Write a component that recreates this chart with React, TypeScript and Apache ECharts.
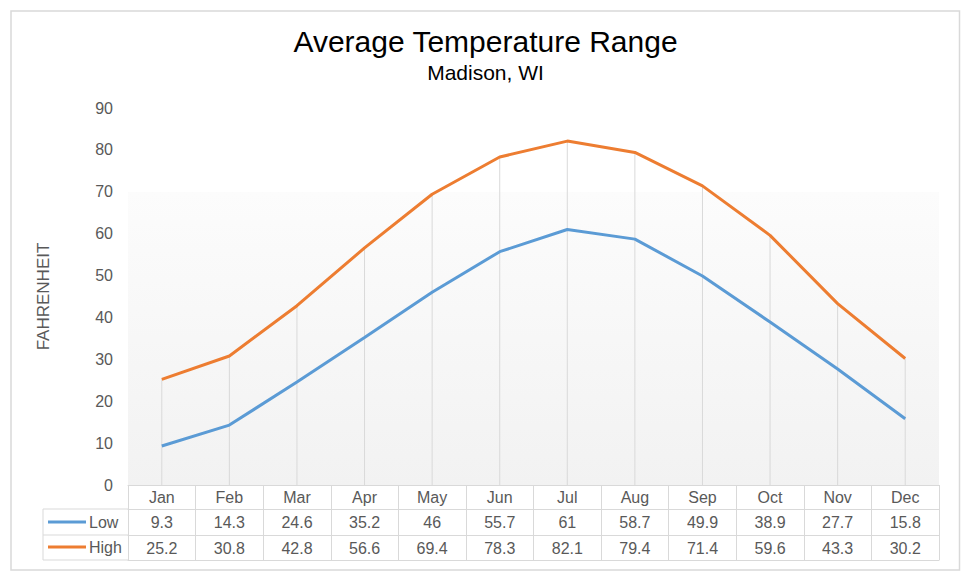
import React, { useEffect, useRef } from 'react';
import * as echarts from 'echarts';

const months = ['Jan', 'Feb', 'Mar', 'Apr', 'May', 'Jun', 'Jul', 'Aug', 'Sep', 'Oct', 'Nov', 'Dec'];
const lowTemps = [9.3, 14.3, 24.6, 35.2, 46, 55.7, 61, 58.7, 49.9, 38.9, 27.7, 15.8];
const highTemps = [25.2, 30.8, 42.8, 56.6, 69.4, 78.3, 82.1, 79.4, 71.4, 59.6, 43.3, 30.2];
const seriesNames = ['Low', 'High'];

const FONT = '"Liberation Sans", Arial, sans-serif';
const GRID = '#d9d9d9';
const TEXT = '#595959';
const BLUE = '#5B9BD5';
const ORANGE = '#ED7D31';

const App: React.FC = () => {
  const chartRef = useRef<HTMLDivElement>(null);

  useEffect(() => {
    if (!chartRef.current) return;
    const chart = echarts.init(chartRef.current, undefined, { renderer: 'svg' });

    // 表格行：每行一个类目轴，用 offset 往下排
    const tableAxis = (offset: number, tickLen: number, labels: (number | string)[] | null, margin: number) => ({
      type: 'category',
      data: months,
      position: 'bottom',
      offset,
      boundaryGap: true,
      axisLine: { show: true, lineStyle: { color: GRID, width: 1 } },
      axisTick: { show: tickLen > 0, interval: 0, length: tickLen, lineStyle: { color: GRID } },
      axisLabel: {
        show: labels !== null,
        interval: 0,
        margin,
        color: TEXT,
        fontSize: 16,
        fontFamily: FONT,
        formatter: (v: string, i: number) => (labels ? String(labels[i]) : v),
      },
      splitLine: { show: false },
    });

    const legendRow = (y: number, color: string, name: string) => [
      { type: 'line', shape: { x1: 48, y1: y, x2: 86, y2: y }, style: { stroke: color, lineWidth: 3 } },
      {
        type: 'text',
        x: 89,
        y,
        style: { text: name, font: `16px ${FONT}`, fill: TEXT, verticalAlign: 'middle' },
      },
    ];

    chart.setOption({
      animation: false,
      backgroundColor: '#fff',
      title: [
        {
          text: 'Average Temperature Range',
          left: 'center',
          top: 26,
          padding: 0,
          textStyle: { fontSize: 30, fontWeight: 'normal', color: '#000', fontFamily: FONT },
        },
        {
          text: 'Madison, WI',
          left: 'center',
          top: 62,
          padding: 0,
          textStyle: { fontSize: 21, fontWeight: 'normal', color: '#000', fontFamily: FONT },
        },
      ],
      grid: {
        left: 128,
        right: 32,
        top: 108,
        bottom: 95,
        show: true,
        borderWidth: 0,
        backgroundColor: new echarts.graphic.LinearGradient(0, 0, 0, 1, [
          { offset: 0, color: '#ffffff' },
          { offset: 0.222, color: '#ffffff' },
          { offset: 0.223, color: '#fcfcfc' },
          { offset: 1, color: '#f2f2f2' },
        ]),
      },
      xAxis: [
        tableAxis(0, 24, null, 4),
        tableAxis(24, 26, lowTemps, 5),
        tableAxis(50, 25, highTemps, 5),
        tableAxis(75, 0, [], 0),
      ].map((a, i) => (i === 0 ? { ...a, axisLabel: { ...a.axisLabel, show: true, formatter: undefined } } : i === 3 ? { ...a, axisLabel: { show: false } } : a)),
      yAxis: {
        type: 'value',
        min: 0,
        max: 90,
        interval: 10,
        name: 'FAHRENHEIT',
        nameLocation: 'middle',
        nameGap: 76,
        nameTextStyle: { color: TEXT, fontSize: 17, fontFamily: FONT },
        axisLine: { show: false },
        axisTick: { show: false },
        splitLine: { show: false },
        axisLabel: { color: TEXT, fontSize: 16, fontFamily: FONT, margin: 15 },
      },
      series: [
        {
          // 垂线：从最高温落到横轴
          type: 'bar',
          data: highTemps,
          barWidth: 1,
          silent: true,
          z: 1,
          itemStyle: { color: GRID },
        },
        {
          name: seriesNames[0],
          type: 'line',
          data: lowTemps,
          symbol: 'none',
          z: 3,
          lineStyle: { width: 3, color: BLUE },
          itemStyle: { color: BLUE },
        },
        {
          name: seriesNames[1],
          type: 'line',
          data: highTemps,
          symbol: 'none',
          z: 3,
          lineStyle: { width: 3, color: ORANGE },
          itemStyle: { color: ORANGE },
        },
      ],
      graphic: [
        {
          type: 'rect',
          shape: { x: 11, y: 11, width: 948.5, height: 559 },
          style: { fill: 'none', stroke: GRID, lineWidth: 1.5 },
          silent: true,
        },
        { type: 'line', shape: { x1: 43, y1: 509, x2: 128, y2: 509 }, style: { stroke: GRID, lineWidth: 1 } },
        { type: 'line', shape: { x1: 43, y1: 535, x2: 128, y2: 535 }, style: { stroke: GRID, lineWidth: 1 } },
        { type: 'line', shape: { x1: 43, y1: 560, x2: 128, y2: 560 }, style: { stroke: GRID, lineWidth: 1 } },
        { type: 'line', shape: { x1: 43, y1: 509, x2: 43, y2: 560 }, style: { stroke: GRID, lineWidth: 1 } },
        ...legendRow(522, BLUE, seriesNames[0]),
        ...legendRow(547, ORANGE, seriesNames[1]),
      ],
    });

    return () => chart.dispose();
  }, []);

  return (
    <div
      ref={chartRef}
      style={{ position: 'absolute', left: 0, top: 0, width: 971, height: 580 }}
    />
  );
};

export default App;
